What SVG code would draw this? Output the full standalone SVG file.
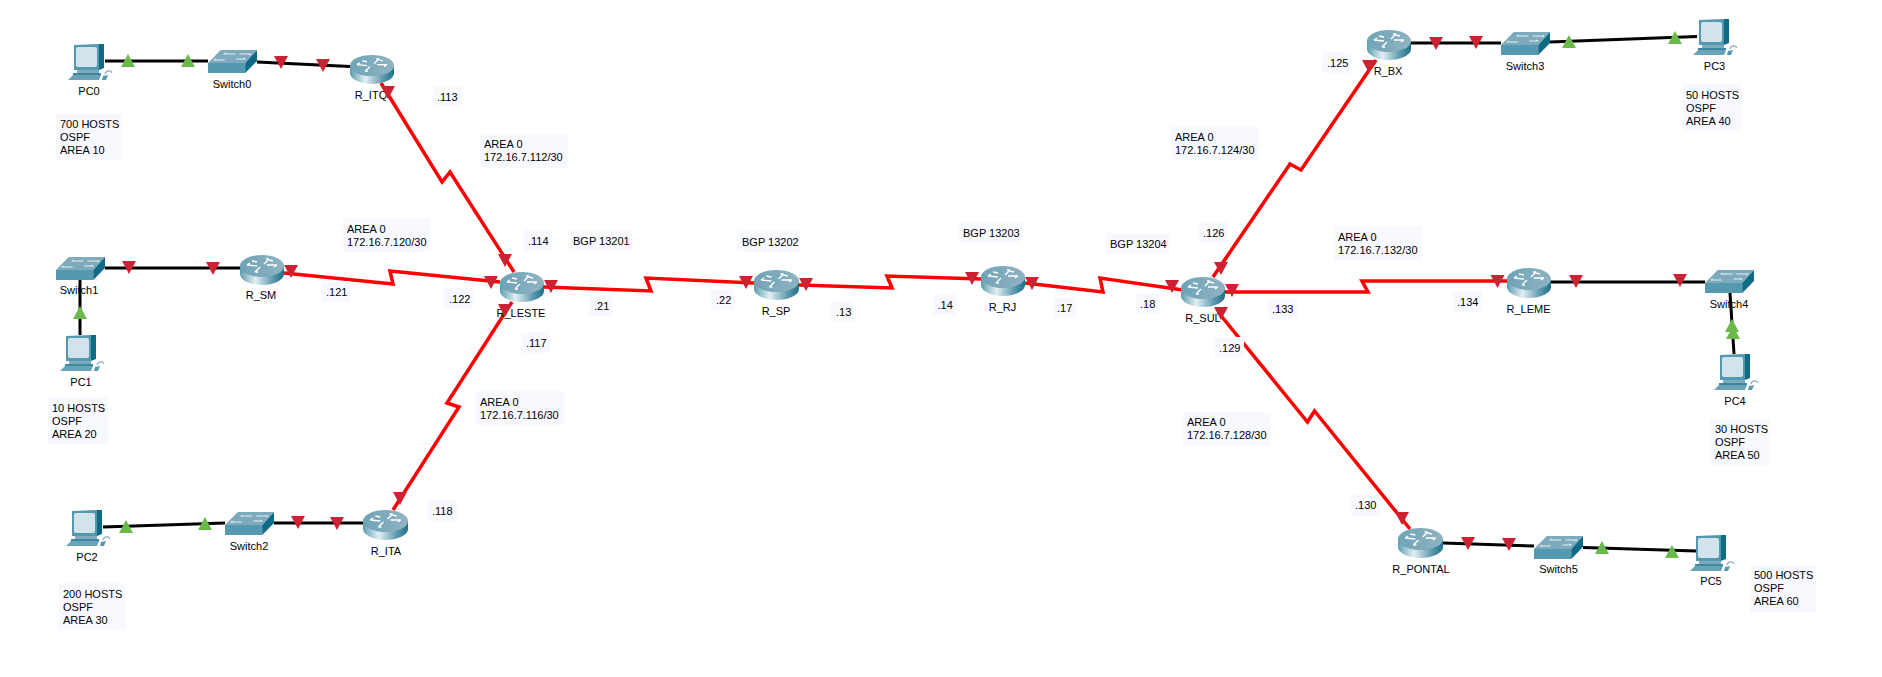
<svg xmlns="http://www.w3.org/2000/svg" xmlns:xlink="http://www.w3.org/1999/xlink" width="1882" height="677" viewBox="0 0 1882 677">
<style>
text{font-family:"Liberation Sans",Arial,sans-serif;font-size:11px;fill:#000}
.lbl{text-anchor:middle}
.box{fill:#f8f9ff}
.eth{fill:none;stroke:#000;stroke-width:3}
.ser{fill:none;stroke:#f00;stroke-width:3.5;stroke-linejoin:miter}
.r{fill:#cc2233}
.g{fill:#6ab94a}
</style>
<defs>
<linearGradient id="rb" x1="0" x2="1" y1="0" y2="0"><stop offset="0" stop-color="#5b9cb0"/><stop offset=".35" stop-color="#e3eff2"/><stop offset=".75" stop-color="#5c99ad"/><stop offset="1" stop-color="#1f7088"/></linearGradient>
<linearGradient id="rt" x1="0" x2="1" y1="0" y2="0"><stop offset="0" stop-color="#6fa3b6"/><stop offset="1" stop-color="#8fb3c2"/></linearGradient>
<polygon id="rd" class="r" points="-7,0 7,0 0,13"/>
<polygon id="gu" class="g" points="0,0 7,13 -7,13"/>
<symbol id="router" viewBox="0 0 44 30" preserveAspectRatio="none">
<path d="M0,11V19C0,25 10,30 22,30S44,25 44,19V11Z" fill="url(#rb)"/>
<ellipse cx="22" cy="11" rx="22" ry="11" fill="url(#rt)"/>
<path d="M7,10L17,11M7,10L10,8M37,10L27,10M37,10L34,12M24,9L29,4M29,4L26,4M20,12L15,17M15,17L18,17M29,5L33,6M12,6L17,7" fill="none" stroke="#fff" stroke-width="1.4"/>
</symbol>
<symbol id="switch" viewBox="0 0 50 23" preserveAspectRatio="none">
<polygon points="0,13 13,0 50,0 38,13" fill="#7dabbd"/>
<rect x="0" y="13" width="38" height="10" fill="#5499b0"/>
<polygon points="38,13 50,0 50,11 38,23" fill="#0f6a85"/>
<path d="M16,4H28M16,4L18,3M44,4H32M44,4L42,5M6,10H17M6,10L8,9M29,9H38M38,9L36,8" fill="none" stroke="#e6f0f3" stroke-width="1"/>
</symbol>
<symbol id="pc" viewBox="0 0 44 36" preserveAspectRatio="none">
<polygon points="31,0 36,0 36,24 31,26" fill="#0f6a85"/>
<polygon points="6,1 31,0 31,26 6,26" fill="#5499b0"/>
<rect x="8" y="3" width="21" height="20" rx="2" fill="#d3e3ea"/>
<rect x="9" y="26" width="22" height="3" fill="#7dabbd"/>
<rect x="5" y="29" width="28" height="2" fill="#3f879f"/>
<polygon points="5,31 33,31 31,36 0,36" fill="#6aa3b7"/>
<polygon points="35,32 40,31 38,36 34,36" fill="#5499b0"/>
<path d="M37,30C38,26 43,26 44,29" fill="none" stroke="#8fb3c2" stroke-width="1.2"/>
</symbol>
</defs>
<rect width="1882" height="677" fill="#fff"/>
<g id="connectors">
<path class="eth" d="M105,61H208"/>
<path class="eth" d="M257,62L350,66.5"/>
<path class="eth" d="M105,268H240"/>
<path class="eth" d="M80,280V335"/>
<path class="eth" d="M103,527L225,523"/>
<path class="eth" d="M274,523H363"/>
<path class="eth" d="M1411,43H1501"/>
<path class="eth" d="M1550,42L1697,36.5"/>
<path class="eth" d="M1551,282H1705"/>
<path class="eth" d="M1730,293L1734,354"/>
<path class="eth" d="M1443,543L1534,546"/>
<path class="eth" d="M1583,547.5L1696,551"/>
<path class="ser" d="M381,83L442,182L450,172L514,272"/>
<path class="ser" d="M284,273L393,284L390,271L500,282"/>
<path class="ser" d="M512,302L447,403L459,407L393,510"/>
<path class="ser" d="M544,287L651,291L646,278L754,283"/>
<path class="ser" d="M799,285L892,288L887,276L981,279"/>
<path class="ser" d="M1025,283L1103,292L1100,278L1183,290"/>
<path class="ser" d="M1213,277L1290,164L1301,170L1376,60"/>
<path class="ser" d="M1225,292H1368L1362,281H1507"/>
<path class="ser" d="M1218,312L1307.5,422L1314.5,411L1410,529"/>
</g>
<g id="routers">
<g id="R_ITQ"><use href="#router" x="350" y="55" width="44" height="29"/><text class="lbl" x="371" y="99">R_ITQ</text></g>
<g id="R_SM"><use href="#router" x="240" y="255" width="44" height="30"/><text class="lbl" x="261" y="299">R_SM</text></g>
<g id="R_LESTE"><use href="#router" x="500" y="272" width="44" height="30"/><text class="lbl" x="521" y="317">R_LESTE</text></g>
<g id="R_ITA"><use href="#router" x="363" y="510" width="45" height="30"/><text class="lbl" x="386" y="555">R_ITA</text></g>
<g id="R_SP"><use href="#router" x="754" y="270" width="45" height="30"/><text class="lbl" x="776" y="315">R_SP</text></g>
<g id="R_RJ"><use href="#router" x="981" y="266" width="44" height="30"/><text class="lbl" x="1002.5" y="311">R_RJ</text></g>
<g id="R_SUL"><use href="#router" x="1181" y="277" width="44" height="30"/><text class="lbl" x="1203" y="322">R_SUL</text></g>
<g id="R_BX"><use href="#router" x="1367" y="30" width="44" height="30"/><text class="lbl" x="1388" y="75">R_BX</text></g>
<g id="R_LEME"><use href="#router" x="1507" y="268" width="44" height="30"/><text class="lbl" x="1528.5" y="313">R_LEME</text></g>
<g id="R_PONTAL"><use href="#router" x="1398" y="528" width="45" height="30"/><text class="lbl" x="1421" y="573">R_PONTAL</text></g>
</g>
<g id="switches">
<g id="Switch0"><use href="#switch" x="208" y="50" width="49" height="23"/><text class="lbl" x="232" y="88">Switch0</text></g>
<g id="Switch1"><use href="#switch" x="56" y="257" width="49" height="23"/><text class="lbl" x="79" y="294">Switch1</text></g>
<g id="Switch2"><use href="#switch" x="225" y="512" width="49" height="23"/><text class="lbl" x="249" y="550">Switch2</text></g>
<g id="Switch3"><use href="#switch" x="1501" y="32" width="49" height="23"/><text class="lbl" x="1525" y="70">Switch3</text></g>
<g id="Switch4"><use href="#switch" x="1705" y="270" width="49" height="23"/><text class="lbl" x="1729" y="308">Switch4</text></g>
<g id="Switch5"><use href="#switch" x="1534" y="536" width="49" height="23"/><text class="lbl" x="1558.5" y="573">Switch5</text></g>
</g>
<g id="pcs">
<g id="PC0"><use href="#pc" x="68" y="44" width="44" height="36"/><text class="lbl" x="89" y="95">PC0</text></g>
<g id="PC1"><use href="#pc" x="60" y="335" width="44" height="36"/><text class="lbl" x="81" y="386">PC1</text></g>
<g id="PC2"><use href="#pc" x="66" y="510" width="44" height="36"/><text class="lbl" x="87" y="561">PC2</text></g>
<g id="PC3"><use href="#pc" x="1693" y="19" width="44" height="36"/><text class="lbl" x="1714.5" y="70">PC3</text></g>
<g id="PC4"><use href="#pc" x="1714" y="354" width="44" height="36"/><text class="lbl" x="1735" y="405">PC4</text></g>
<g id="PC5"><use href="#pc" x="1690" y="535" width="44" height="36"/><text class="lbl" x="1711" y="585">PC5</text></g>
</g>
<g id="link-lights">
<use href="#gu" x="128" y="54"/><use href="#gu" x="188" y="54"/><use href="#rd" x="281" y="56"/><use href="#rd" x="323" y="59"/><use href="#rd" x="388" y="86"/>
<use href="#rd" x="129" y="261"/><use href="#rd" x="213" y="262"/><use href="#gu" x="80" y="306"/><use href="#rd" x="291" y="265"/>
<use href="#rd" x="505" y="254"/><use href="#rd" x="491" y="276"/><use href="#rd" x="551" y="280"/><use href="#rd" x="505" y="304"/>
<use href="#rd" x="400" y="492"/><use href="#gu" x="126" y="520"/><use href="#gu" x="205" y="517"/><use href="#rd" x="298" y="516"/><use href="#rd" x="337" y="517"/>
<use href="#rd" x="746" y="276"/><use href="#rd" x="806" y="278"/><use href="#rd" x="972" y="272"/><use href="#rd" x="1032" y="277"/>
<use href="#rd" x="1172" y="280"/><use href="#rd" x="1221" y="262"/><use href="#rd" x="1232" y="284"/><use href="#rd" x="1221" y="307"/>
<use href="#rd" x="1369" y="60"/><use href="#rd" x="1436" y="37"/><use href="#rd" x="1476" y="36"/><use href="#gu" x="1569" y="35"/><use href="#gu" x="1675" y="31"/>
<use href="#rd" x="1497.5" y="275"/><use href="#rd" x="1576" y="275"/><use href="#rd" x="1680" y="274"/><use href="#gu" x="1732" y="319"/><use href="#gu" x="1733" y="326"/>
<use href="#rd" x="1402" y="512"/><use href="#rd" x="1468" y="537"/><use href="#rd" x="1509" y="538"/><use href="#gu" x="1602" y="541"/><use href="#gu" x="1672" y="545"/>
</g>
<g id="notes">
<g id="n700"><rect class="box" x="56" y="113" width="66" height="47"/><text x="60" y="128">700 HOSTS</text><text x="60" y="141">OSPF</text><text x="60" y="154">AREA 10</text></g>
<g id="n10"><rect class="box" x="48" y="397" width="60" height="47"/><text x="52" y="412">10 HOSTS</text><text x="52" y="425">OSPF</text><text x="52" y="438">AREA 20</text></g>
<g id="n200"><rect class="box" x="59" y="583" width="66" height="47"/><text x="63" y="598">200 HOSTS</text><text x="63" y="611">OSPF</text><text x="63" y="624">AREA 30</text></g>
<g id="n50"><rect class="box" x="1682" y="84" width="60" height="47"/><text x="1686" y="99">50 HOSTS</text><text x="1686" y="112">OSPF</text><text x="1686" y="125">AREA 40</text></g>
<g id="n30"><rect class="box" x="1710" y="419" width="60" height="47"/><text x="1715" y="433">30 HOSTS</text><text x="1715" y="446">OSPF</text><text x="1715" y="459">AREA 50</text></g>
<g id="n500"><rect class="box" x="1750" y="565" width="66" height="47"/><text x="1754" y="579">500 HOSTS</text><text x="1754" y="592">OSPF</text><text x="1754" y="605">AREA 60</text></g>
<g id="a112"><rect class="box" x="480" y="134" width="88" height="34"/><text x="484" y="148">AREA 0</text><text x="484" y="161">172.16.7.112/30</text></g>
<g id="a120"><rect class="box" x="343" y="218" width="88" height="34"/><text x="347" y="233">AREA 0</text><text x="347" y="246">172.16.7.120/30</text></g>
<g id="a116"><rect class="box" x="476" y="391" width="88" height="34"/><text x="480" y="406">AREA 0</text><text x="480" y="419">172.16.7.116/30</text></g>
<g id="a124"><rect class="box" x="1171" y="126" width="88" height="34"/><text x="1175" y="141">AREA 0</text><text x="1175" y="154">172.16.7.124/30</text></g>
<g id="a132"><rect class="box" x="1334" y="226" width="88" height="34"/><text x="1338" y="241">AREA 0</text><text x="1338" y="254">172.16.7.132/30</text></g>
<g id="a128"><rect class="box" x="1183" y="412" width="88" height="34"/><text x="1187" y="426">AREA 0</text><text x="1187" y="439">172.16.7.128/30</text></g>
<g id="b1"><rect class="box" x="569" y="230" width="63" height="21"/><text x="573" y="245">BGP 13201</text></g>
<g id="b2"><rect class="box" x="737" y="231" width="63" height="21"/><text x="742" y="246">BGP 13202</text></g>
<g id="b3"><rect class="box" x="959" y="222" width="63" height="21"/><text x="963" y="237">BGP 13203</text></g>
<g id="b4"><rect class="box" x="1106" y="233" width="63" height="21"/><text x="1110" y="248">BGP 13204</text></g>
<g id="i113"><rect class="box" x="433" y="86" width="29" height="21"/><text x="437" y="101">.113</text></g>
<g id="i114"><rect class="box" x="524" y="230" width="28" height="21"/><text x="528" y="245">.114</text></g>
<g id="i121"><rect class="box" x="321" y="281" width="29" height="21"/><text x="326" y="296">.121</text></g>
<g id="i122"><rect class="box" x="444" y="288" width="29" height="21"/><text x="449" y="303">.122</text></g>
<g id="i117"><rect class="box" x="521" y="332" width="29" height="21"/><text x="526" y="347">.117</text></g>
<g id="i118"><rect class="box" x="428" y="500" width="29" height="21"/><text x="432" y="515">.118</text></g>
<g id="i21"><rect class="box" x="589" y="295" width="23" height="21"/><text x="594" y="310">.21</text></g>
<g id="i22"><rect class="box" x="711" y="289" width="23" height="21"/><text x="716" y="304">.22</text></g>
<g id="i13"><rect class="box" x="831" y="301" width="23" height="21"/><text x="836" y="316">.13</text></g>
<g id="i14"><rect class="box" x="933" y="294" width="23" height="21"/><text x="937.5" y="309">.14</text></g>
<g id="i17"><rect class="box" x="1053" y="297" width="23" height="21"/><text x="1057" y="312">.17</text></g>
<g id="i18"><rect class="box" x="1136" y="293" width="23" height="21"/><text x="1140" y="308">.18</text></g>
<g id="i125"><rect class="box" x="1322" y="52" width="29" height="21"/><text x="1327" y="67">.125</text></g>
<g id="i126"><rect class="box" x="1199" y="222" width="29" height="21"/><text x="1203" y="237">.126</text></g>
<g id="i133"><rect class="box" x="1268" y="298" width="29" height="21"/><text x="1272" y="313">.133</text></g>
<g id="i134"><rect class="box" x="1453" y="291" width="29" height="21"/><text x="1457" y="306">.134</text></g>
<g id="i129"><rect class="box" x="1215" y="337" width="29" height="21"/><text x="1219" y="352">.129</text></g>
<g id="i130"><rect class="box" x="1351" y="495" width="29" height="21"/><text x="1355" y="509">.130</text></g>
</g>
</svg>
